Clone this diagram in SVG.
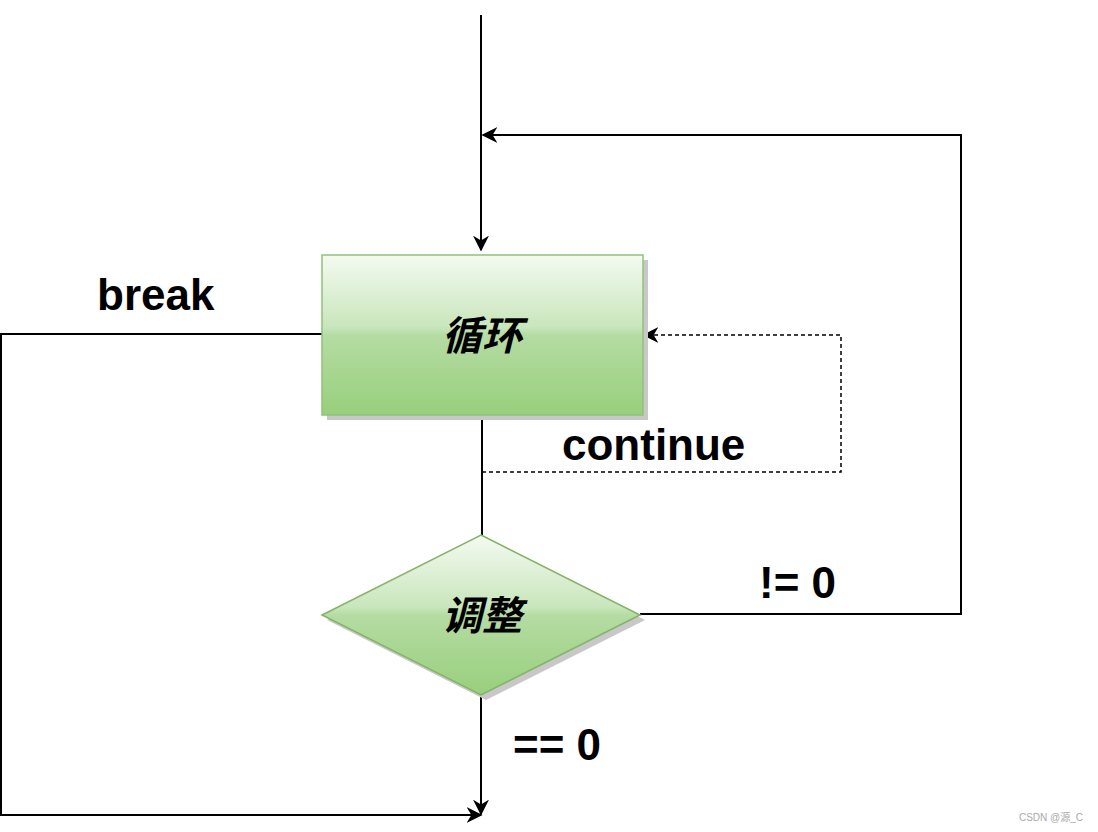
<svg xmlns="http://www.w3.org/2000/svg" width="1098" height="832" viewBox="0 0 1098 832">
<style>
.ln{fill:none;stroke:#000;stroke-width:2}
.ds{fill:none;stroke:#000;stroke-width:1.5;stroke-dasharray:4 3}
.lb{font-family:"Liberation Sans",Arial,sans-serif;font-weight:bold;font-size:44px;fill:#000}
.cn{font-family:"Noto Sans CJK SC",sans-serif;font-weight:bold;font-style:italic;font-size:40px;fill:#000}
</style>
<defs>
<marker id="ah" viewBox="0 0 10 10" refX="9" refY="5" markerWidth="8" markerHeight="8" markerUnits="userSpaceOnUse" orient="auto">
<path d="M0,0L10,5L0,10L3,5z" fill="#000"/></marker>
<marker id="ah2" viewBox="0 0 10 10" refX="9" refY="5" markerWidth="16" markerHeight="16" markerUnits="userSpaceOnUse" orient="auto">
<path d="M0,0L10,5L0,10L3,5z" fill="#000"/></marker>
<linearGradient id="g" x1="0" y1="0" x2="0" y2="1">
<stop offset="0" stop-color="#f4faf1"/><stop offset="0.45" stop-color="#c9e6bc"/><stop offset="0.5" stop-color="#b5dca3"/><stop offset="1" stop-color="#98cf7c"/></linearGradient>
</defs>
<rect width="1098" height="832" fill="#fff"/>
<g id="connectors">
<path class="ln" d="M481,15V250" marker-end="url(#ah2)"/>
<path class="ln" d="M640,614H961V135H483" marker-end="url(#ah2)"/>
<path class="ln" d="M322,334H1V815H481" marker-end="url(#ah2)"/>
<path class="ln" d="M481,695V814" marker-end="url(#ah2)"/>
<path class="ln" d="M482,415V535"/>
<path class="ds" d="M482,472H841V335H644" marker-end="url(#ah2)"/>
</g>
<g id="loop">
<rect x="327" y="260" width="321" height="160" fill="#c8c8c8"/>
<rect x="322" y="255" width="321" height="160" fill="url(#g)" stroke="#8fc27a" stroke-width="1.5"/>
<text class="cn" x="482" y="350" text-anchor="middle">循环</text>
</g>
<g id="adjust">
<path d="M486,540L645,620L486,700L327,620z" fill="#c8c8c8"/>
<path d="M481,535L640,615L481,695L322,615z" fill="url(#g)" stroke="#82b366" stroke-width="1.5"/>
<text class="cn" x="482" y="630" text-anchor="middle">调整</text>
</g>
<g id="labels">
<text class="lb" x="97" y="310">break</text>
<text class="lb" x="562" y="460">continue</text>
<text class="lb" x="759" y="598">!= 0</text>
<text class="lb" x="513" y="760">== 0</text>
<text x="1083" y="821" text-anchor="end" font-family="Liberation Sans,Noto Sans CJK SC,sans-serif" font-size="10" fill="#aaa">CSDN @源_C</text>
</g>
</svg>
